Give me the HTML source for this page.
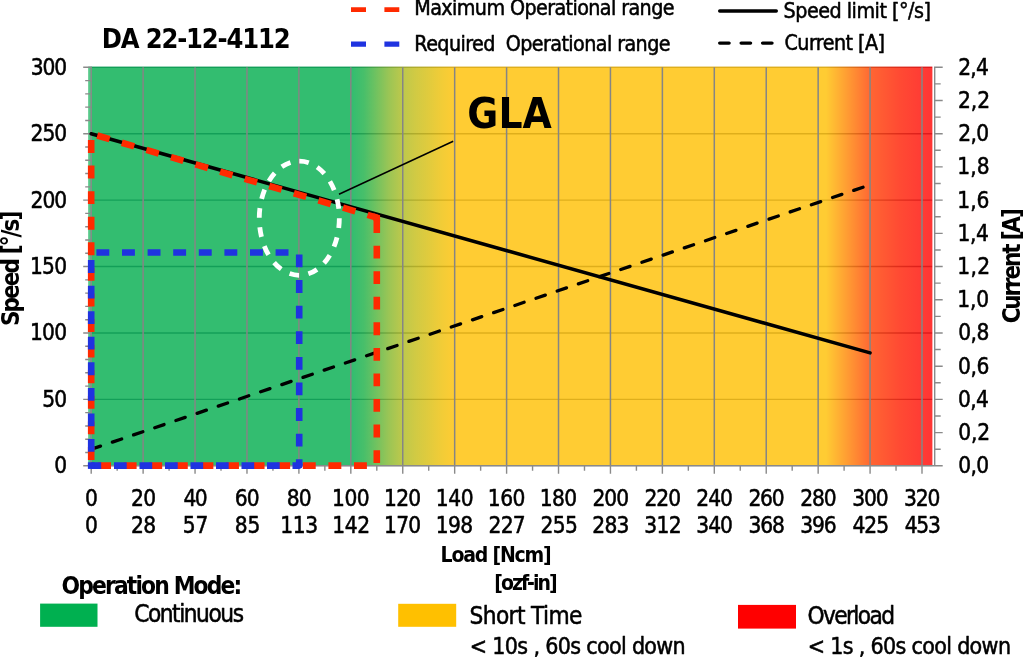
<!DOCTYPE html>
<html lang="en"><head><meta charset="utf-8"><title>DA 22-12-4112</title>
<style>html,body{margin:0;padding:0;background:#fff;}body{width:1025px;height:657px;overflow:hidden;}svg{display:block;}text{font-family:"DejaVu Sans Condensed", "Liberation Sans", sans-serif;fill:#000;stroke:#000;stroke-width:0.5px;stroke-linejoin:round;}.b{font-weight:bold;stroke:none;}</style>
</head><body>
<svg width="1025" height="657" viewBox="0 0 1025 657" style="filter:blur(0.5px)">
<rect x="0" y="0" width="1025" height="657" fill="#fff"/>
<defs><linearGradient id="bg" gradientUnits="userSpaceOnUse" x1="88.2" y1="0" x2="932.4" y2="0">
<stop offset="0.0000" stop-color="#33bd70"/>
<stop offset="0.3125" stop-color="#33bd70"/>
<stop offset="0.3267" stop-color="#48bf6a"/>
<stop offset="0.3409" stop-color="#70c260"/>
<stop offset="0.3563" stop-color="#9bc555"/>
<stop offset="0.3717" stop-color="#bcc84c"/>
<stop offset="0.3871" stop-color="#d0ca44"/>
<stop offset="0.4037" stop-color="#e1cb3d"/>
<stop offset="0.4191" stop-color="#f2cc37"/>
<stop offset="0.4345" stop-color="#ffcc33"/>
<stop offset="0.8740" stop-color="#ffcc33"/>
<stop offset="0.9285" stop-color="#ff6433"/>
<stop offset="0.9616" stop-color="#ff4a33"/>
<stop offset="1.0000" stop-color="#ff3535"/>
</linearGradient></defs>
<rect x="88.2" y="66.6" width="844.2" height="399.2" fill="url(#bg)"/>
<rect x="88.2" y="66.6" width="2.4" height="399.2" fill="#fff" opacity="0.18"/>
<path d="M91.2 465.80H932.4M91.2 399.38H932.4M91.2 332.97H932.4M91.2 266.55H932.4M91.2 200.13H932.4M91.2 133.72H932.4M91.2 67.30H932.4" stroke="#201e18" stroke-width="1.4" fill="none" style="mix-blend-mode:difference"/>
<path d="M143.12 67.3V465.8M195.05 67.3V465.8M246.98 67.3V465.8M298.90 67.3V465.8M350.82 67.3V465.8M402.75 67.3V465.8M454.67 67.3V465.8M506.60 67.3V465.8M558.52 67.3V465.8M610.45 67.3V465.8M662.38 67.3V465.8M714.30 67.3V465.8M766.23 67.3V465.8M818.15 67.3V465.8M870.08 67.3V465.8M922.00 67.3V465.8" stroke="#858585" stroke-width="1.5" fill="none"/>
<path d="M91.20 66.6V466.5M83.2 465.80H91.20M85.2 452.52H91.20M85.2 439.23H91.20M85.2 425.95H91.20M85.2 412.67H91.20M83.2 399.38H91.20M85.2 386.10H91.20M85.2 372.82H91.20M85.2 359.53H91.20M85.2 346.25H91.20M83.2 332.97H91.20M85.2 319.68H91.20M85.2 306.40H91.20M85.2 293.12H91.20M85.2 279.83H91.20M83.2 266.55H91.20M85.2 253.27H91.20M85.2 239.98H91.20M85.2 226.70H91.20M85.2 213.42H91.20M83.2 200.13H91.20M85.2 186.85H91.20M85.2 173.57H91.20M85.2 160.28H91.20M85.2 147.00H91.20M83.2 133.72H91.20M85.2 120.43H91.20M85.2 107.15H91.20M85.2 93.87H91.20M85.2 80.58H91.20M83.2 67.30H91.20M934.70 66.6V466.5M934.70 465.80H942.7M934.70 449.20H940.7M934.70 432.59H942.7M934.70 415.99H940.7M934.70 399.38H942.7M934.70 382.78H940.7M934.70 366.18H942.7M934.70 349.57H940.7M934.70 332.97H942.7M934.70 316.36H940.7M934.70 299.76H942.7M934.70 283.15H940.7M934.70 266.55H942.7M934.70 249.95H940.7M934.70 233.34H942.7M934.70 216.74H940.7M934.70 200.13H942.7M934.70 183.53H940.7M934.70 166.92H942.7M934.70 150.32H940.7M934.70 133.72H942.7M934.70 117.11H940.7M934.70 100.51H942.7M934.70 83.90H940.7M934.70 67.30H942.7M91.2 465.80H934.7M91.20 465.8V473.8M117.16 465.8V470.8M143.12 465.8V473.8M169.09 465.8V470.8M195.05 465.8V473.8M221.01 465.8V470.8M246.98 465.8V473.8M272.94 465.8V470.8M298.90 465.8V473.8M324.86 465.8V470.8M350.82 465.8V473.8M376.79 465.8V470.8M402.75 465.8V473.8M428.71 465.8V470.8M454.67 465.8V473.8M480.64 465.8V470.8M506.60 465.8V473.8M532.56 465.8V470.8M558.52 465.8V473.8M584.49 465.8V470.8M610.45 465.8V473.8M636.41 465.8V470.8M662.38 465.8V473.8M688.34 465.8V470.8M714.30 465.8V473.8M740.26 465.8V470.8M766.23 465.8V473.8M792.19 465.8V470.8M818.15 465.8V473.8M844.11 465.8V470.8M870.08 465.8V473.8M896.04 465.8V470.8M922.00 465.8V473.8" stroke="#8a8a8a" stroke-width="1.4" fill="none"/>
<line x1="91.2" y1="133.7" x2="870.1" y2="352.9" stroke="#000" stroke-width="3.5" stroke-linecap="round"/>
<line x1="91.2" y1="449.3" x2="870.1" y2="184.8" stroke="#000" stroke-width="3.3" stroke-linecap="round" stroke-dasharray="9.8 12.57"/>
<line x1="376.80" y1="217.60" x2="376.80" y2="465.60" stroke="#ff2a00" stroke-width="6.6" stroke-dasharray="12.80 12.76" stroke-dashoffset="23.06"/>
<line x1="376.80" y1="465.60" x2="91.20" y2="465.60" stroke="#ff2a00" stroke-width="6.6" stroke-dasharray="12.90 12.69" stroke-dashoffset="15.69"/>
<line x1="91.20" y1="465.60" x2="91.20" y2="133.72" stroke="#ff2a00" stroke-width="6.6" stroke-dasharray="12.90 12.68" stroke-dashoffset="19.88"/>
<line x1="91.20" y1="133.72" x2="376.80" y2="217.60" stroke="#ff2a00" stroke-width="6.6" stroke-dasharray="12.90 12.71" stroke-dashoffset="19.31"/>
<path d="M373.5 213.2L380.1 215.14V221H373.5Z" fill="#ff2a00"/>
<line x1="91.20" y1="252.50" x2="299.20" y2="252.50" stroke="#1f33e0" stroke-width="6.6" stroke-dasharray="12.90 12.70" stroke-dashoffset="20.40"/>
<line x1="299.20" y1="252.50" x2="299.20" y2="465.60" stroke="#1f33e0" stroke-width="6.6" stroke-dasharray="12.80 12.80" stroke-dashoffset="23.60"/>
<line x1="299.20" y1="465.60" x2="91.20" y2="465.60" stroke="#1f33e0" stroke-width="6.6" stroke-dasharray="12.70 12.80" stroke-dashoffset="6.00"/>
<line x1="91.20" y1="465.60" x2="91.20" y2="252.50" stroke="#1f33e0" stroke-width="6.6" stroke-dasharray="12.80 12.76" stroke-dashoffset="11.80"/>
<circle cx="299.20" cy="465.60" r="3.3" fill="#1f33e0"/>
<rect x="87.90" y="462.30" width="6.6" height="6.6" fill="#1f33e0"/>
<path d="M299.3 161.1A40.0 57.1 0 1 1 299.3 275.3A40.0 57.1 0 1 1 299.3 161.1" fill="none" stroke="#fff" stroke-width="4.8" stroke-dasharray="9.7 9.52"/>
<line x1="339" y1="194.2" x2="453.2" y2="141.3" stroke="#000" stroke-width="1.5"/>
<path d="M351 9.55H366M384.4 9.55H399.3" stroke="#ff2a00" stroke-width="4.8" fill="none"/>
<path d="M351 44.15H366M384.4 44.15H399.3" stroke="#1f33e0" stroke-width="5.1" fill="none"/>
<path d="M719.7 10.95H776.3" stroke="#000" stroke-width="3.4" stroke-linecap="round" fill="none"/>
<path d="M719.7 43.1H773" stroke="#000" stroke-width="3.4" stroke-linecap="round" stroke-dasharray="9.4 12.05" fill="none"/>
<rect x="40.1" y="603.6" width="57.4" height="23.2" fill="#00b050"/>
<rect x="398.2" y="603.8" width="58" height="23.0" fill="#ffc000"/>
<rect x="738" y="604.9" width="58" height="23.7" fill="#ff0000"/>
<text x="101.78" y="48.00" font-size="27.0" class="b" textLength="188.85" lengthAdjust="spacing">DA 22-12-4112</text>
<text x="467.31" y="128.00" font-size="42.0" class="b" textLength="84.55" lengthAdjust="spacing">GLA</text>
<text x="414.25" y="15.40" font-size="21.3" textLength="260.25" lengthAdjust="spacing">Maximum Operational range</text>
<text x="414.37" y="50.60" font-size="21.3" xml:space="preserve" textLength="256.16" lengthAdjust="spacing">Required  Operational range</text>
<text x="783.61" y="17.70" font-size="21.3" textLength="147.39" lengthAdjust="spacing">Speed limit [°/s]</text>
<text x="784.44" y="49.80" font-size="21.3" textLength="100.59" lengthAdjust="spacing">Current [A]</text>
<text x="54.27" y="473.20" font-size="22.5" textLength="19.29" lengthAdjust="spacing">0</text>
<text x="42.30" y="406.78" font-size="22.5" textLength="24.91" lengthAdjust="spacing">50</text>
<text x="29.92" y="340.37" font-size="22.5" textLength="37.23" lengthAdjust="spacing">100</text>
<text x="29.92" y="273.95" font-size="22.5" textLength="37.23" lengthAdjust="spacing">150</text>
<text x="30.60" y="207.53" font-size="22.5" textLength="36.54" lengthAdjust="spacing">200</text>
<text x="30.60" y="141.12" font-size="22.5" textLength="36.54" lengthAdjust="spacing">250</text>
<text x="30.70" y="74.70" font-size="22.5" textLength="36.42" lengthAdjust="spacing">300</text>
<text x="958.22" y="473.20" font-size="22.5" textLength="30.91" lengthAdjust="spacing">0,0</text>
<text x="958.20" y="439.99" font-size="22.5" textLength="31.89" lengthAdjust="spacing">0,2</text>
<text x="958.12" y="406.78" font-size="22.5" textLength="30.79" lengthAdjust="spacing">0,4</text>
<text x="958.10" y="373.57" font-size="22.5" textLength="31.35" lengthAdjust="spacing">0,6</text>
<text x="958.19" y="340.37" font-size="22.5" textLength="31.29" lengthAdjust="spacing">0,8</text>
<text x="957.36" y="307.16" font-size="22.5" textLength="31.85" lengthAdjust="spacing">1,0</text>
<text x="957.29" y="273.95" font-size="22.5" textLength="32.77" lengthAdjust="spacing">1,2</text>
<text x="957.38" y="240.74" font-size="22.5" textLength="31.56" lengthAdjust="spacing">1,4</text>
<text x="957.33" y="207.53" font-size="22.5" textLength="32.16" lengthAdjust="spacing">1,6</text>
<text x="957.34" y="174.32" font-size="22.5" textLength="32.23" lengthAdjust="spacing">1,8</text>
<text x="958.13" y="141.12" font-size="22.5" textLength="31.04" lengthAdjust="spacing">2,0</text>
<text x="958.07" y="107.91" font-size="22.5" textLength="32.02" lengthAdjust="spacing">2,2</text>
<text x="958.13" y="74.70" font-size="22.5" textLength="30.81" lengthAdjust="spacing">2,4</text>
<text x="84.89" y="505.70" font-size="22.5" textLength="18.79" lengthAdjust="spacing">0</text>
<text x="84.89" y="533.10" font-size="22.5" textLength="18.79" lengthAdjust="spacing">0</text>
<text x="131.10" y="505.70" font-size="22.5" textLength="24.93" lengthAdjust="spacing">20</text>
<text x="131.09" y="533.10" font-size="22.5" textLength="24.94" lengthAdjust="spacing">28</text>
<text x="183.38" y="505.70" font-size="22.5" textLength="24.38" lengthAdjust="spacing">40</text>
<text x="182.85" y="533.10" font-size="22.5" textLength="25.44" lengthAdjust="spacing">57</text>
<text x="234.85" y="505.70" font-size="22.5" textLength="24.75" lengthAdjust="spacing">60</text>
<text x="234.82" y="533.10" font-size="22.5" textLength="25.49" lengthAdjust="spacing">85</text>
<text x="286.65" y="505.70" font-size="22.5" textLength="24.93" lengthAdjust="spacing">80</text>
<text x="280.31" y="533.10" font-size="22.5" textLength="37.72" lengthAdjust="spacing">113</text>
<text x="332.12" y="505.70" font-size="22.5" textLength="37.45" lengthAdjust="spacing">100</text>
<text x="332.15" y="533.10" font-size="22.5" textLength="37.88" lengthAdjust="spacing">142</text>
<text x="384.01" y="505.70" font-size="22.5" textLength="37.20" lengthAdjust="spacing">120</text>
<text x="384.01" y="533.10" font-size="22.5" textLength="37.20" lengthAdjust="spacing">170</text>
<text x="435.76" y="505.70" font-size="22.5" textLength="37.76" lengthAdjust="spacing">140</text>
<text x="435.81" y="533.10" font-size="22.5" textLength="37.42" lengthAdjust="spacing">198</text>
<text x="487.86" y="505.70" font-size="22.5" textLength="37.62" lengthAdjust="spacing">160</text>
<text x="488.61" y="533.10" font-size="22.5" textLength="37.13" lengthAdjust="spacing">227</text>
<text x="539.82" y="505.70" font-size="22.5" textLength="37.44" lengthAdjust="spacing">180</text>
<text x="540.52" y="533.10" font-size="22.5" textLength="37.36" lengthAdjust="spacing">255</text>
<text x="592.38" y="505.70" font-size="22.5" textLength="36.73" lengthAdjust="spacing">200</text>
<text x="592.36" y="533.10" font-size="22.5" textLength="37.11" lengthAdjust="spacing">283</text>
<text x="644.55" y="505.70" font-size="22.5" textLength="36.54" lengthAdjust="spacing">220</text>
<text x="644.20" y="533.10" font-size="22.5" textLength="37.56" lengthAdjust="spacing">312</text>
<text x="696.17" y="505.70" font-size="22.5" textLength="36.81" lengthAdjust="spacing">240</text>
<text x="696.36" y="533.10" font-size="22.5" textLength="36.65" lengthAdjust="spacing">340</text>
<text x="748.42" y="505.70" font-size="22.5" textLength="36.29" lengthAdjust="spacing">260</text>
<text x="748.46" y="533.10" font-size="22.5" textLength="36.44" lengthAdjust="spacing">368</text>
<text x="800.23" y="505.70" font-size="22.5" textLength="36.45" lengthAdjust="spacing">280</text>
<text x="800.21" y="533.10" font-size="22.5" textLength="36.37" lengthAdjust="spacing">396</text>
<text x="852.24" y="505.70" font-size="22.5" textLength="36.49" lengthAdjust="spacing">300</text>
<text x="852.39" y="533.10" font-size="22.5" textLength="36.81" lengthAdjust="spacing">425</text>
<text x="904.12" y="505.70" font-size="22.5" textLength="36.27" lengthAdjust="spacing">320</text>
<text x="904.69" y="533.10" font-size="22.5" textLength="36.22" lengthAdjust="spacing">453</text>
<text x="440.57" y="562.00" font-size="21.0" class="b" textLength="111.08" lengthAdjust="spacing">Load [Ncm]</text>
<text x="494.17" y="589.60" font-size="21.0" class="b" textLength="63.59" lengthAdjust="spacing">[ozf-in]</text>
<text transform="translate(19.40,326.12) rotate(-90)" font-size="24.0" class="b" textLength="115.53" lengthAdjust="spacing">Speed [°/s]</text>
<text transform="translate(1019.50,323.36) rotate(-90)" font-size="24.0" class="b" textLength="115.16" lengthAdjust="spacing">Current [A]</text>
<text x="61.40" y="594.40" font-size="24.3" class="b" textLength="180.93" lengthAdjust="spacing">Operation Mode:</text>
<text x="134.20" y="621.70" font-size="24.2" textLength="109.77" lengthAdjust="spacing">Continuous</text>
<text x="469.58" y="624.00" font-size="24.2" textLength="112.84" lengthAdjust="spacing">Short Time</text>
<text x="469.80" y="653.60" font-size="23.0" textLength="215.94" lengthAdjust="spacing">&lt; 10s , 60s cool down</text>
<text x="807.48" y="624.00" font-size="24.2" textLength="87.48" lengthAdjust="spacing">Overload</text>
<text x="807.65" y="653.60" font-size="23.0" textLength="203.35" lengthAdjust="spacing">&lt; 1s , 60s cool down</text>
</svg></body></html>
